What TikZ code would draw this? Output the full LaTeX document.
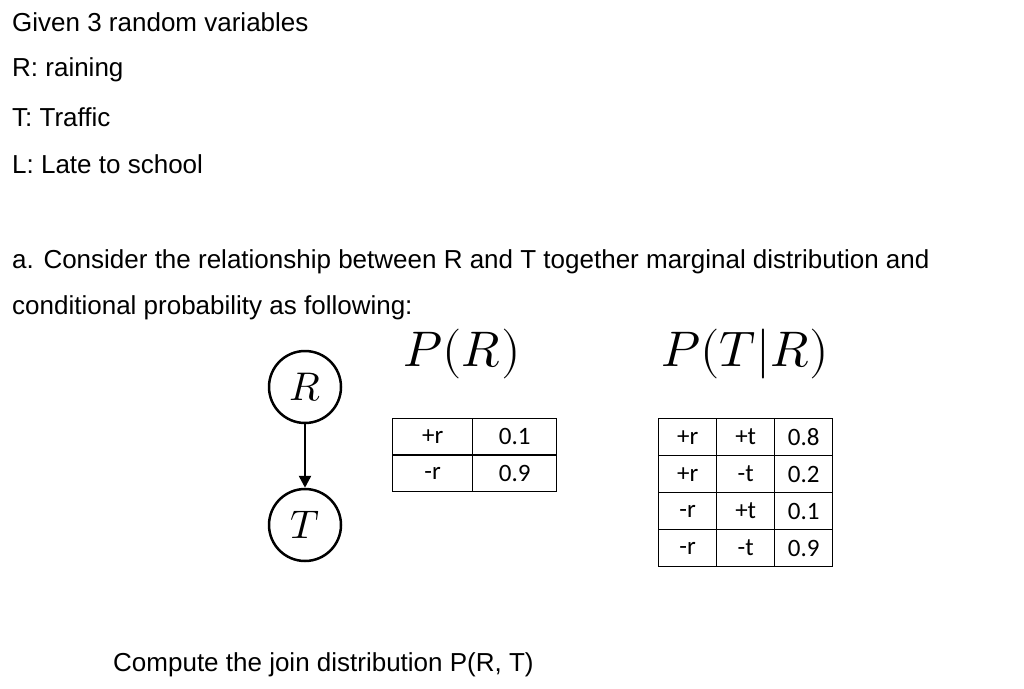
\documentclass[tikz,border=0pt]{standalone}
\usepackage{fontspec}
\setmainfont{Liberation Sans}
\newfontfamily\calfont{Carlito}
\usepackage{unicode-math}
\setmathfont{Latin Modern Math}
\usetikzlibrary{arrows.meta}
\begin{document}
\begin{tikzpicture}[x=1pt,y=-1pt,
  txt/.style={anchor=west,font=\fontsize{26}{28}\selectfont,inner sep=0pt},
  var/.style={draw,circle,line width=2.5pt,minimum size=72pt,inner sep=0pt,font=\fontsize{40}{42}\selectfont},
  cell/.style={draw,line width=1.3pt,inner sep=0pt,font=\calfont\fontsize{25}{27}\selectfont},
  ttl/.style={font=\fontsize{50}{52}\selectfont}]
\useasboundingbox (0,0) rectangle (1024,688);
\node[txt] (l1) at (12,22) {Given 3 random variables};
\node[txt] (l2) at (12,70) {R: raining};
\node[txt] (l3) at (12,117) {T: Traffic};
\node[txt] (l4) at (12,164) {L: Late to school};
\node[txt] (l5) at (12,262) {a. Consider the relationship between R and T together marginal distribution and};
\node[txt] (l6) at (12,308) {conditional probability as following:};
\node[txt] (l7) at (113,665) {Compute the join distribution P(R, T)};
\node[var] (R) at (305,387) {$R$};
\node[var] (T) at (305,525) {$T$};
\draw[line width=2.5pt,-{Triangle[length=12pt,width=12pt]}] (R) -- (T);
\node[ttl] (pr) at (462,354) {$P(R)$};
\node[ttl] (ptr) at (745,354) {$P(T|R)$};
% P(R) table
\foreach \y/\a/\b [count=\i] in {418/+r/0.1,455/-r/0.9}{
  \node[cell,minimum width=80pt,minimum height=36pt,anchor=north west] (a\i) at (392,\y) {\a};
  \node[cell,minimum width=84pt,minimum height=36pt,anchor=north west] (b\i) at (472,\y) {\b};
}
% P(T|R) table
\foreach \y/\a/\b/\c [count=\i] in {418/+r/+t/0.8,455/+r/-t/0.2,492/-r/+t/0.1,529/-r/-t/0.9}{
  \node[cell,minimum width=58pt,minimum height=37pt,anchor=north west] (c\i) at (658,\y) {\a};
  \node[cell,minimum width=58pt,minimum height=37pt,anchor=north west] (d\i) at (716,\y) {\b};
  \node[cell,minimum width=58pt,minimum height=37pt,anchor=north west] (e\i) at (774,\y) {\c};
}
\end{tikzpicture}
\end{document}
